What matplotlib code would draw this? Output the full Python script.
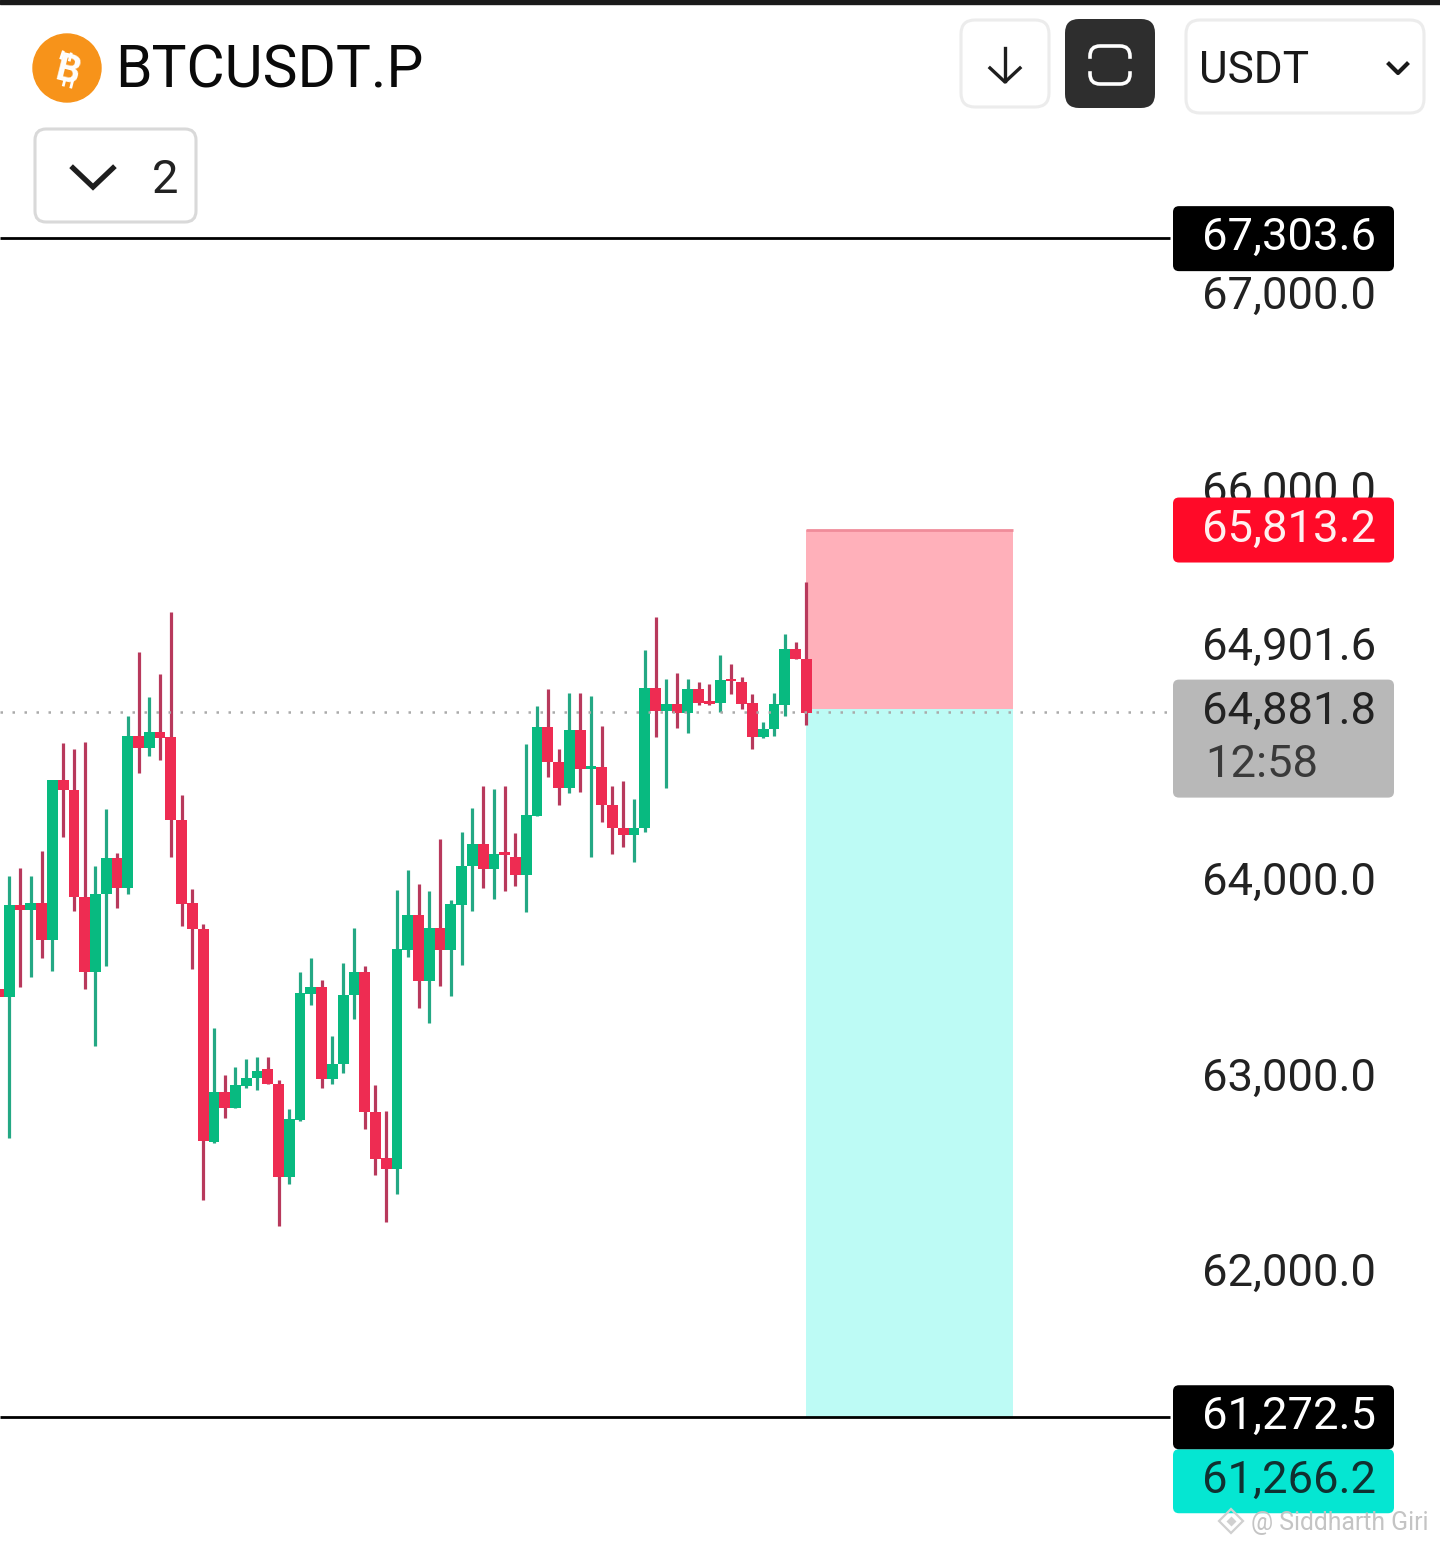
import numpy as np
import matplotlib
matplotlib.use('Agg')
import matplotlib.pyplot as plt
from matplotlib.patches import FancyBboxPatch, Circle, Rectangle

plt.rcParams['font.family'] = ['Roboto', 'DejaVu Sans']

# --- Candles (first one is cut off by the left edge) ---
opens = [63463, 63422, 63893, 63867, 63903, 63714, 64532, 64481, 63934, 63550, 63949, 64133, 63980,
         64757, 64696, 64777, 64752, 64327, 63903, 63770, 62680, 62936, 62854, 62967, 63008, 63054,
         62977, 62501, 62793, 63437, 63473, 63003, 63079, 63432, 63550, 62834, 62598, 62542, 63662,
         63841, 63504, 63775, 63662, 63893, 64092, 64205, 64077, 64164, 64138, 64046, 64348, 64803,
         64624, 64491, 64788, 64588, 64598, 64404, 64286, 64251, 64286, 65003, 64885, 64921, 64875,
         64997, 64936, 64926, 65049, 65033, 64926, 64752, 64793, 64916, 65202, 65151]
highs = [63463, 64041, 64082, 64041, 64169, 64532, 64721, 64691, 64726, 64092, 64384, 64159, 64859,
         65187, 64957, 65074, 65391, 64455, 63974, 63795, 63263, 63023, 63064, 63105, 63115, 63115,
         62997, 62849, 63550, 63621, 63509, 63223, 63596, 63775, 63581, 62972, 62839, 63969, 64072,
         64000, 63964, 64230, 63918, 64266, 64389, 64501, 64486, 64501, 64261, 64716, 64910, 64997,
         64691, 64977, 64977, 64962, 64808, 64501, 64527, 64435, 65197, 65366, 65049, 65079, 65049,
         65033, 65023, 65171, 65125, 65059, 64972, 64829, 64977, 65279, 65238, 65545]
lows = [63422, 62701, 63473, 63524, 63621, 63555, 64240, 63862, 63463, 63171, 63581, 63877, 63949,
        64568, 64655, 64634, 64138, 63785, 63565, 62384, 62675, 62803, 62854, 62957, 62946, 62977,
        62251, 62466, 62788, 63381, 62957, 62977, 63033, 63309, 62747, 62512, 62271, 62414, 63627,
        63366, 63289, 63478, 63427, 63586, 63862, 63980, 63923, 63964, 63990, 63857, 64348, 64547,
        64404, 64465, 64471, 64138, 64317, 64153, 64189, 64113, 64266, 64752, 64491, 64798, 64772,
        64916, 64916, 64880, 64972, 64895, 64691, 64747, 64757, 64859, 65151, 64813]
closes = [63422, 63893, 63867, 63903, 63714, 64532, 64481, 63934, 63550, 63949, 64133, 63980, 64757,
          64696, 64777, 64747, 64327, 63898, 63770, 62685, 62936, 62854, 62972, 63008, 63043, 62977,
          62501, 62798, 63442, 63473, 63003, 63079, 63432, 63550, 62834, 62593, 62542, 63668, 63841,
          63504, 63775, 63662, 63898, 64092, 64205, 64077, 64153, 64148, 64046, 64353, 64803, 64624,
          64491, 64788, 64588, 64604, 64404, 64286, 64251, 64286, 65003, 64885, 64921, 64875, 64997,
          64926, 64921, 65043, 65038, 64921, 64752, 64793, 64921, 65202, 65151, 64875]

# --- Levels and labels ---
stop_price = 65813.2
entry_price = 64895
target_price = 61266.2
upper_line = 67303.6
lower_line = 61272.5
last_price = 64881.8
tick_prices = [67000.0, 66000.0, 64000.0, 63000.0, 62000.0]

# --- Colours ---
RED = '#ee2c52'
RED_WICK = '#b8395c'
GREEN = '#08ba80'
GREEN_WICK = '#24a884'
FS = 32.7

W, H = 1440, 1546
fig = plt.figure(figsize=(W / 100, H / 100), dpi=100, facecolor='white')

# price axes fills the whole figure, scale
ax = fig.add_axes([0, 0, 1, 1])
ax.set_xlim(-0.8635, 132.84)
ax.set_ylim(60613.9, 68521.7)
ax.axis('off')

idx = np.arange(len(opens)) - 1
o = np.array(opens)
c = np.array(closes)
up = c >= o
wick_colors = [GREEN_WICK if u else RED_WICK for u in up]
body_colors = [GREEN if u else RED for u in up]

# position box
ax.bar(73.97, stop_price - entry_price, bottom=entry_price, width=19.23, align='edge',
       color='#ffb0ba', zorder=1)
ax.bar(73.97, entry_price - target_price, bottom=target_price, width=19.23, align='edge',
       color='#bdfbf5', zorder=1)
ax.hlines(stop_price, 73.97, 93.2, color='#f08c9a', lw=2, zorder=1.5)

ax.vlines(idx, lows, highs, color=wick_colors, lw=2.3, zorder=3)
ax.bar(idx, c - o, bottom=o, width=1.0, color=body_colors, zorder=4)

ax.hlines([upper_line, lower_line], -0.8635, 107.77, color='black', lw=2, zorder=5)
ax.plot([-0.8635, 107.77], [last_price, last_price], color='#aaaaaa', lw=1.8,
        linestyle=(0, (1, 3.8)), zorder=5)

# UI overlay in pixel coordinates
ui = fig.add_axes([0, 0, 1, 1])
ui.set_xlim(0, W)
ui.set_ylim(H, 0)
ui.axis('off')
ui.patch.set_alpha(0)


def py(price):
    return H - ax.transData.transform((0, price))[1]


def box(x0, y0, x1, y1, face, edge='none', lw=0, r=8, z=6):
    ui.add_patch(FancyBboxPatch((x0 + r, y0 + r), x1 - x0 - 2 * r, y1 - y0 - 2 * r,
                                boxstyle=f'round,pad={r},rounding_size={r}',
                                fc=face, ec=edge, lw=lw, zorder=z))


ui.add_patch(Rectangle((0, 0), W, 4, color='#1a1a1a', zorder=6))

# header
ui.add_patch(Circle((67, 68), 34, color='#f7931a', zorder=6))
ui.text(65, 82, 'B', color='white', fontsize=27, fontweight='bold', ha='center', va='baseline',
        rotation=-14, rotation_mode='anchor', zorder=7)
ui.plot([63, 61], [52, 58], color='white', lw=2, zorder=7)
ui.plot([71, 69.5], [54, 60], color='white', lw=2, zorder=7)
ui.plot([65, 63.5], [79, 85], color='white', lw=2, zorder=7)
ui.plot([72.5, 71], [81, 87], color='white', lw=2, zorder=7)
ui.text(115, 87, 'BTCUSDT.P', color='#0a0a0a', fontsize=42.2, ha='left', va='baseline', zorder=7)

box(35, 129, 196, 222, 'white', '#d9d9d9', 2.2, r=11)
ui.plot([73, 93, 113], [168, 187, 168], color='#1e1e1e', lw=3.8, zorder=7, solid_joinstyle='miter')
ui.text(178, 193, '2', color='#222222', fontsize=34, ha='right', va='baseline', zorder=7)

box(961, 20, 1049, 107, 'white', '#ececec', 2.2, r=14)
ui.plot([1005, 1005], [48, 81], color='#1e1e1e', lw=2.4, zorder=7)
ui.plot([990, 1005, 1020], [68, 82, 68], color='#1e1e1e', lw=2.4, zorder=7)

box(1065, 19, 1155, 108, '#2e2e2e', r=14)
box(1090, 46, 1130, 84, 'none', 'white', 2.6, r=10, z=7)
ui.add_patch(Rectangle((1084, 59), 52, 11, color='#2e2e2e', zorder=8))

box(1186, 20, 1424, 113, 'white', '#ececec', 2.2, r=14)
ui.text(1199, 83, 'USDT', color='#1a1a1a', fontsize=31.8, ha='left', va='baseline', zorder=7)
ui.plot([1389, 1398, 1407], [64, 73, 64], color='#1a1a1a', lw=3, zorder=7)

# price scale
for p in tick_prices:
    ui.text(1376, py(p) + 11, f'{p:,.1f}', color='#222222', fontsize=FS, ha='right',
            va='baseline', zorder=6)
ui.text(1376, 660, '64,901.6', color='#222222', fontsize=FS, ha='right', va='baseline', zorder=6)

yy = py(upper_line)
box(1173, yy - 32, 1394, yy + 33, 'black', r=6, z=7)
ui.text(1376, yy + 12, f'{upper_line:,.1f}', color='white', fontsize=FS, ha='right', va='baseline', zorder=8)

yy = py(stop_price)
box(1173, yy - 32, 1394, yy + 33, '#ff0a28', r=6, z=7)
ui.text(1376, yy + 12, f'{stop_price:,.1f}', color='#fff0f0', fontsize=FS, ha='right', va='baseline', zorder=8)

yy = py(last_price)
box(1173, yy - 32, 1394, yy + 86, '#b8b8b8', r=6, z=7)
ui.text(1376, yy + 12, f'{last_price:,.1f}', color='#222222', fontsize=FS, ha='right', va='baseline', zorder=8)
ui.text(1205, yy + 65, '12:58', color='#3a3a3a', fontsize=FS, ha='left', va='baseline', zorder=8)

yy = py(lower_line)
box(1173, yy + 32, 1394, yy + 96, '#05e6d2', r=6, z=7)
ui.text(1376, yy + 76, f'{target_price:,.1f}', color='#103030', fontsize=FS, ha='right', va='baseline', zorder=8)
box(1173, yy - 32, 1394, yy + 32, 'black', r=6, z=8)
ui.text(1376, yy + 12, f'{lower_line:,.1f}', color='white', fontsize=FS, ha='right', va='baseline', zorder=9)

# watermark
ui.plot([1231], [1521], marker='D', ms=12, mfc='none', mec='#d0d0d0', mew=1.6, zorder=9)
ui.plot([1231], [1521], marker='D', ms=5, mfc='#d0d0d0', mec='none', zorder=9)
ui.text(1251, 1530, '@ Siddharth Giri', color='#c4c4c4', fontsize=17.8, ha='left', va='baseline', zorder=9)

fig.savefig('out.png', dpi=100)
